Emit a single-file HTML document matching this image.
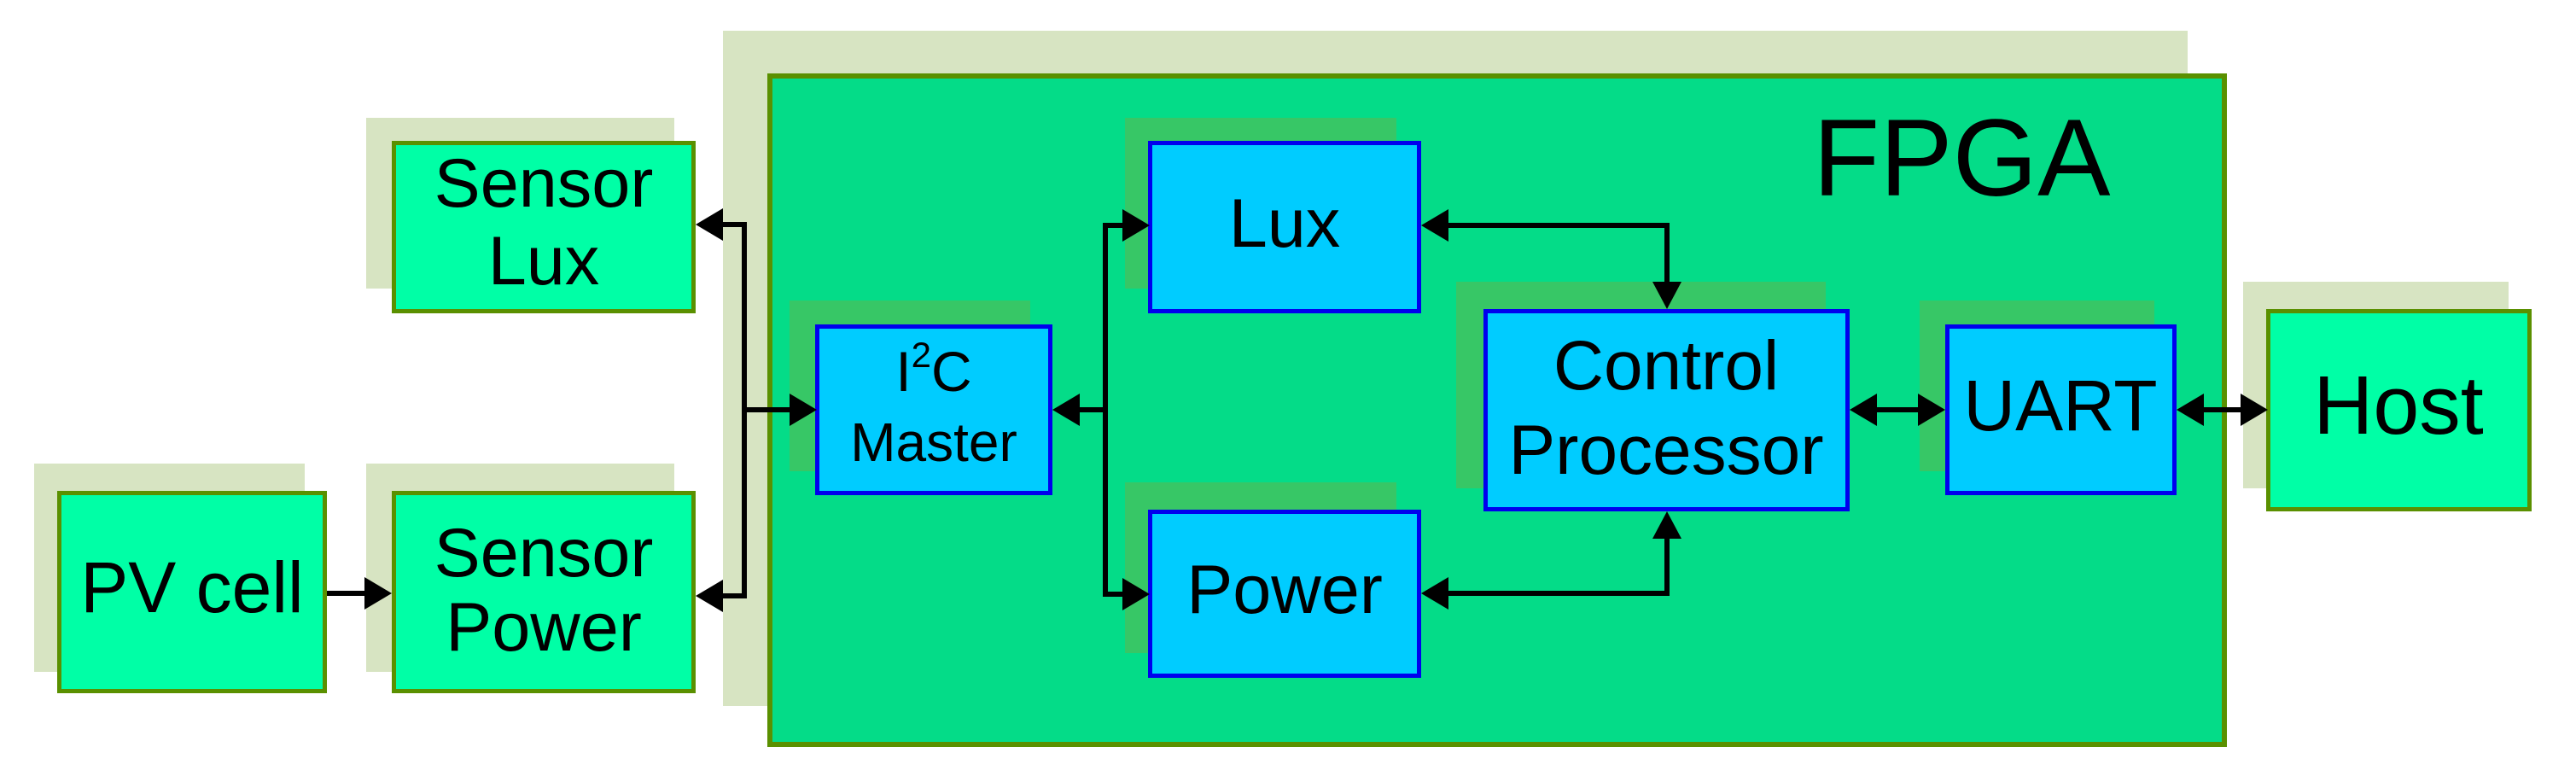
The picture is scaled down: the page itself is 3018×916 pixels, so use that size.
<!DOCTYPE html>
<html><head><meta charset="utf-8"><style>
html,body{margin:0;padding:0;background:#fff;}
svg{display:block;}
text{font-family:"Liberation Sans",Arial,sans-serif;fill:#000;}
</style></head><body>
<svg width="3018" height="916" viewBox="0 0 3018 916" xmlns="http://www.w3.org/2000/svg">
<!-- FPGA -->
<rect x="847" y="36" width="1716" height="791" fill="#d7e4c2"/>
<rect x="902" y="89" width="1704" height="783" fill="#04dc88" stroke="#5a9000" stroke-width="6"/>
<text x="2124" y="229" font-size="128">FPGA</text>

<!-- external shadows -->
<rect x="429" y="138" width="361" height="200" fill="#d7e4c2"/>
<rect x="40" y="543" width="317" height="244" fill="#d7e4c2"/>
<rect x="429" y="543" width="361" height="244" fill="#d7e4c2"/>
<rect x="2628" y="330" width="311" height="242" fill="#d7e4c2"/>

<!-- external boxes -->
<g fill="#00ffa6" stroke="#5a9000" stroke-width="5">
<rect x="461.5" y="167.5" width="351" height="197"/>
<rect x="69.5" y="577.5" width="311" height="232"/>
<rect x="461.5" y="577.5" width="351" height="232"/>
<rect x="2657.5" y="364.5" width="306" height="232"/>
</g>
<g font-size="81" text-anchor="middle">
<text x="637" y="242">Sensor</text>
<text x="637" y="333">Lux</text>
<text x="225" y="717" font-size="84">PV cell</text>
<text x="637" y="675">Sensor</text>
<text x="637" y="762">Power</text>
<text x="2810" y="508" font-size="97">Host</text>
</g>

<!-- inner shadows -->
<g fill="#37c766">
<rect x="925" y="352" width="282" height="200"/>
<rect x="1318" y="138" width="318" height="200"/>
<rect x="1318" y="565" width="318" height="200"/>
<rect x="1706" y="330" width="433" height="242"/>
<rect x="2249" y="352" width="275" height="200"/>
</g>
<!-- inner boxes -->
<g fill="#00ccff" stroke="#0000ee" stroke-width="5">
<rect x="957.5" y="382.5" width="273" height="195"/>
<rect x="1347.5" y="167.5" width="315" height="197"/>
<rect x="1347.5" y="599.5" width="315" height="192"/>
<rect x="1740.5" y="364.5" width="424" height="232"/>
<rect x="2281.5" y="382.5" width="266" height="195"/>
</g>
<g text-anchor="middle">
<text x="1094" y="458" font-size="66">I<tspan font-size="42" dy="-28">2</tspan><tspan dy="28">C</tspan></text>
<text x="1094" y="540" font-size="64">Master</text>
<text x="1505" y="289" font-size="81">Lux</text>
<text x="1505" y="718" font-size="81">Power</text>
<text x="1952" y="456" font-size="82">Control</text>
<text x="1952" y="555" font-size="82">Processor</text>
<text x="2414" y="504" font-size="84">UART</text>
</g>

<!-- connectors -->
<g stroke="#000" stroke-width="6" fill="none">
<polyline points="383,695 440,695"/>
<polyline points="840,263 872,263 872,698 840,698"/>
<polyline points="872,480 930,480"/>
<polyline points="1260,480 1295,480"/>
<polyline points="1322,264 1295,264 1295,696 1322,696"/>
<polyline points="1690,264 1953,264 1953,335"/>
<polyline points="1690,695 1953,695 1953,625"/>
<polyline points="2192,480 2254,480"/>
<polyline points="2575,480 2632,480"/>
</g>
<g fill="#000">
<!-- right pointing: tip x,y -->
<polygon points="459,695 427,676 427,714"/>
<polygon points="957,480 925,461 925,499"/>
<polygon points="1347,264 1315,245 1315,283"/>
<polygon points="1347,696 1315,677 1315,715"/>
<polygon points="2279,480 2247,461 2247,499"/>
<polygon points="2657,480 2625,461 2625,499"/>
<!-- left pointing -->
<polygon points="815,263 847,244 847,282"/>
<polygon points="815,698 847,679 847,717"/>
<polygon points="1233,480 1265,461 1265,499"/>
<polygon points="1665,264 1697,245 1697,283"/>
<polygon points="1665,695 1697,676 1697,714"/>
<polygon points="2167,480 2199,461 2199,499"/>
<polygon points="2550,480 2582,461 2582,499"/>
<!-- down / up -->
<polygon points="1953,362 1936,330 1970,330"/>
<polygon points="1953,599 1936,631 1970,631"/>
</g>
</svg>
</body></html>
